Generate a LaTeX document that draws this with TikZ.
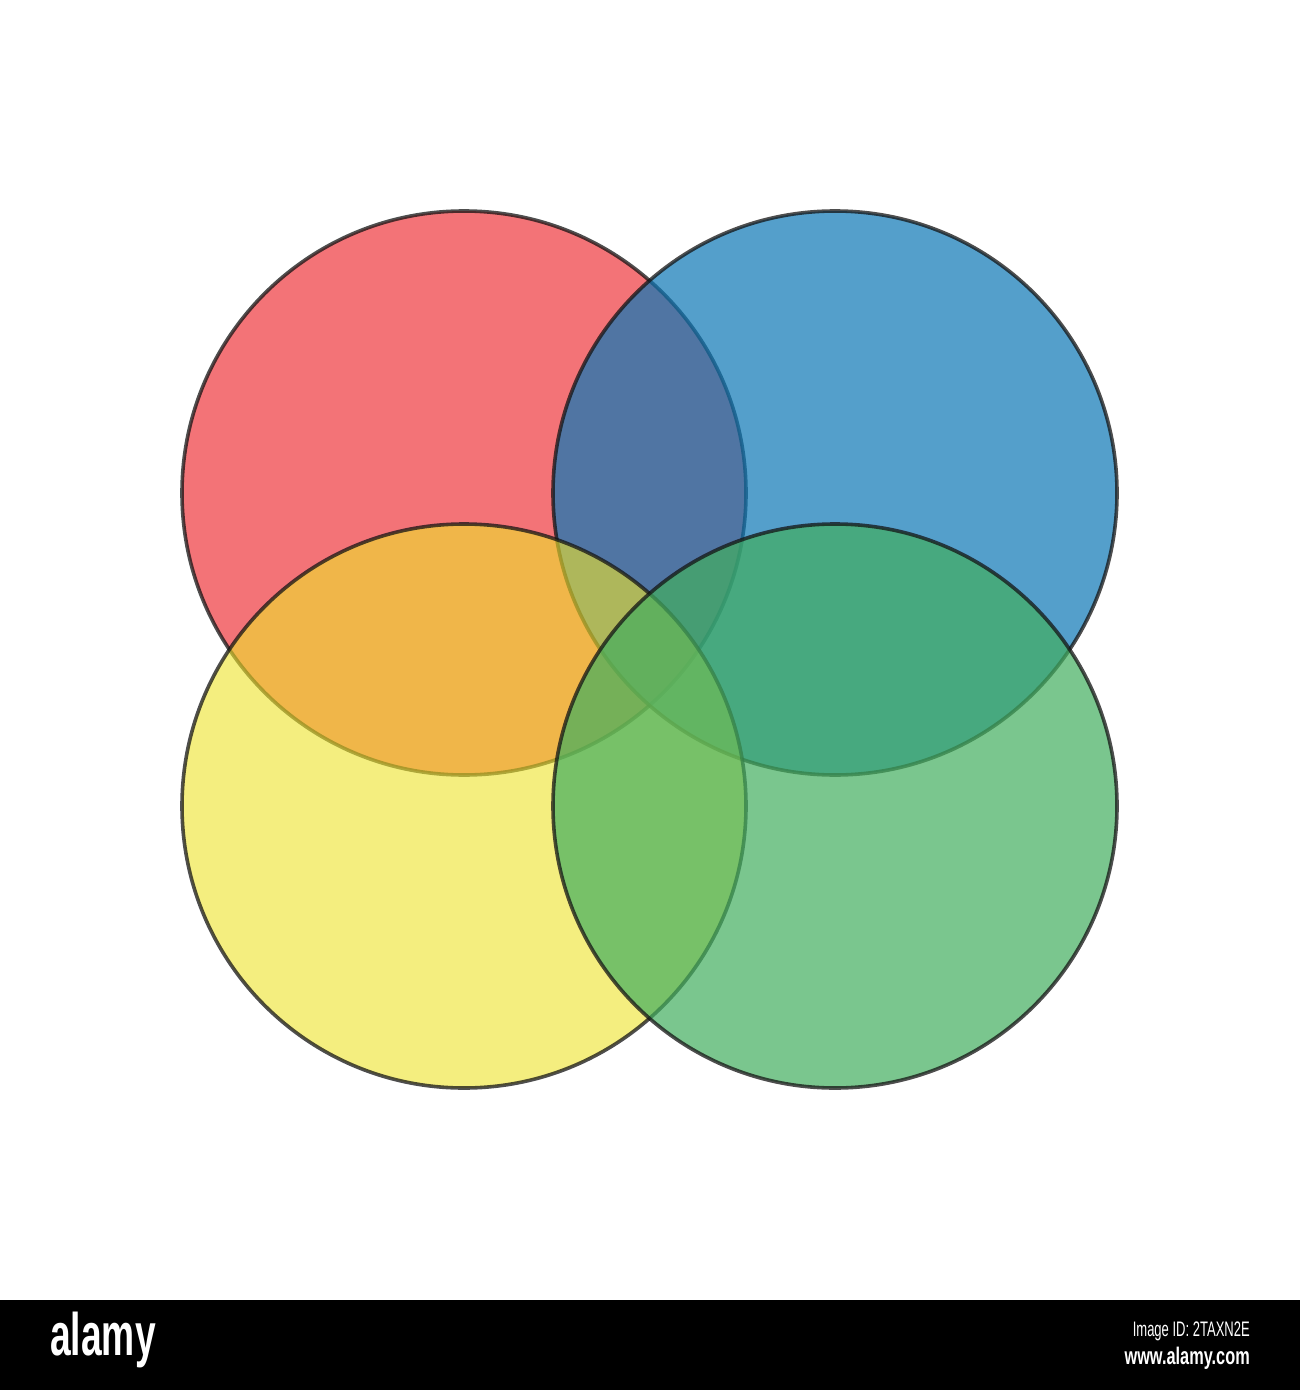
\documentclass[tikz,border=0pt]{standalone}
\usepackage{fontspec}
\setmainfont{Liberation Sans}
\definecolor{cred}{RGB}{239,56,62}
\definecolor{cblue}{RGB}{12,119,182}
\definecolor{cyellow}{RGB}{238,227,43}
\definecolor{cgreen}{RGB}{66,174,95}
\definecolor{cline}{RGB}{20,20,20}
\begin{document}
\begin{tikzpicture}[x=0.5pt,y=-0.5pt,
  venn/.style={circle, minimum size=564*0.5pt, inner sep=0pt, fill opacity=0.7, draw=cline, draw opacity=0.75, line width=1.8pt},
  wm/.style={text=white, font=\bfseries, inner sep=0pt}]
\useasboundingbox (0,0) rectangle (1300,1390);
\fill[white] (0,0) rectangle (1300,1300);
\node[venn, fill=cred]    (red)    at (464,493) {};
\node[venn, fill=cblue]   (blue)   at (835,493) {};
\node[venn, fill=cyellow, fill opacity=0.6] (yellow) at (464,806) {};
\node[venn, fill=cgreen]  (green)  at (835,806) {};
\fill[black] (0,1300) rectangle (1300,1390);
\node[wm, font=\bfseries\fontsize{30}{30}\selectfont, xscale=0.62, anchor=west] (logo) at (50,1340) {alamy};
\node[wm, font=\fontsize{10.5}{10.5}\selectfont, xscale=0.62, anchor=east] (imgid) at (1250,1331) {Image ID: 2TAXN2E};
\node[wm, font=\bfseries\fontsize{12}{12}\selectfont, xscale=0.68, anchor=east] (url) at (1250,1358) {www.alamy.com};
\end{tikzpicture}
\end{document}
